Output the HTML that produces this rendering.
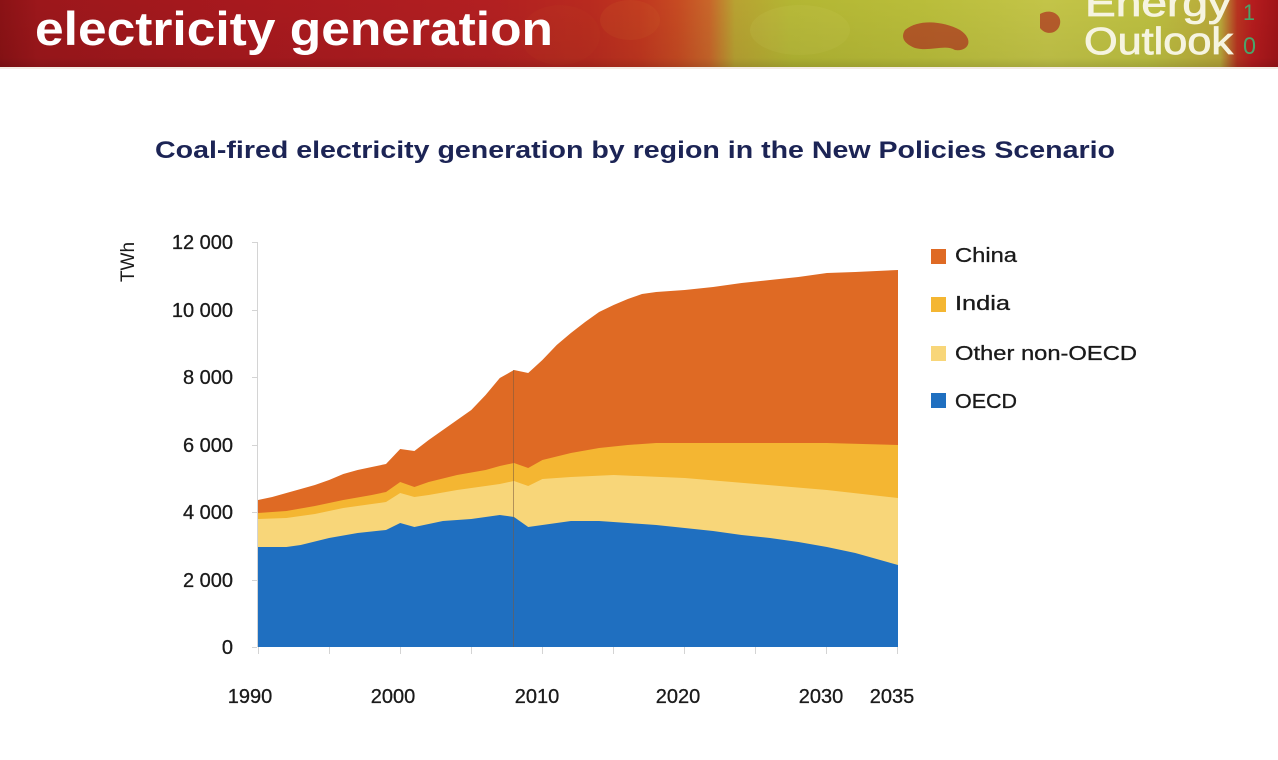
<!DOCTYPE html>
<html>
<head>
<meta charset="utf-8">
<style>
  html,body{margin:0;padding:0;background:#ffffff;}
  body{width:1278px;height:760px;overflow:hidden;}
  svg{display:block;}
  text{font-family:"Liberation Sans", "DejaVu Sans", sans-serif;}
</style>
</head>
<body>
<svg width="1278" height="760" viewBox="0 0 1278 760" xmlns="http://www.w3.org/2000/svg">
  <defs>
    <linearGradient id="banner" x1="0" y1="0" x2="1" y2="0">
      <stop offset="0" stop-color="#8a1215"/>
      <stop offset="0.03" stop-color="#9c171b"/>
      <stop offset="0.2" stop-color="#a8191e"/>
      <stop offset="0.38" stop-color="#b21f21"/>
      <stop offset="0.46" stop-color="#b82a1f"/>
      <stop offset="0.5" stop-color="#c0361f"/>
      <stop offset="0.53" stop-color="#c64a22"/>
      <stop offset="0.555" stop-color="#c8662a"/>
      <stop offset="0.575" stop-color="#b8a232"/>
      <stop offset="0.62" stop-color="#b3b633"/>
      <stop offset="0.72" stop-color="#b9bd3a"/>
      <stop offset="0.82" stop-color="#c3c448"/>
      <stop offset="0.9" stop-color="#bcbf40"/>
      <stop offset="0.955" stop-color="#b9a83a"/>
      <stop offset="0.968" stop-color="#b83420"/>
      <stop offset="0.98" stop-color="#b51c1e"/>
      <stop offset="1" stop-color="#a01418"/>
    </linearGradient>
    <linearGradient id="shade" x1="0" y1="0" x2="0" y2="1">
      <stop offset="0" stop-color="#000" stop-opacity="0"/>
      <stop offset="0.85" stop-color="#000" stop-opacity="0.05"/>
      <stop offset="1" stop-color="#000" stop-opacity="0.15"/>
    </linearGradient>
  </defs>

  <!-- Header banner -->
  <rect x="0" y="0" width="1278" height="68" fill="url(#banner)"/>
  <ellipse cx="560" cy="35" rx="40" ry="30" fill="#c4401f" opacity="0.15"/>
  <ellipse cx="630" cy="20" rx="30" ry="20" fill="#d06a2a" opacity="0.15"/>
  <path d="M905,30 C920,18 945,22 960,30 C975,40 968,52 955,50 C945,44 930,52 915,48 C905,44 900,38 905,30 Z" fill="#b03020" opacity="0.7"/>
  <path d="M1040,14 C1050,8 1062,14 1060,24 C1058,34 1046,36 1040,28 Z" fill="#b03020" opacity="0.7"/>
  <ellipse cx="800" cy="30" rx="50" ry="25" fill="#cdd060" opacity="0.15"/>
  <rect x="0" y="0" width="1278" height="68" fill="url(#shade)"/>
  <rect x="0" y="67" width="1278" height="2" fill="#f4ece4"/>

  <text x="35" y="45" font-size="47" font-weight="bold" fill="#ffffff" textLength="518" lengthAdjust="spacingAndGlyphs">electricity generation</text>
  <text x="1085" y="16" font-size="38" fill="#f6f4e0" textLength="146" lengthAdjust="spacingAndGlyphs" stroke="#f6f4e0" stroke-width="0.8">Energy</text>
  <text x="1084" y="54" font-size="38" fill="#f6f4e0" textLength="149" lengthAdjust="spacingAndGlyphs" stroke="#f6f4e0" stroke-width="0.8">Outlook</text>
  <text x="1243" y="20" font-size="22" fill="#4aa56a" textLength="12" lengthAdjust="spacingAndGlyphs">1</text>
  <text x="1243" y="54" font-size="24" fill="#4aa56a" textLength="13" lengthAdjust="spacingAndGlyphs">0</text>

  <!-- Chart title -->
  <text x="155" y="158" font-size="24" font-weight="bold" fill="#1c2455" textLength="960" lengthAdjust="spacingAndGlyphs">Coal-fired electricity generation by region in the New Policies Scenario</text>

  <!-- Y axis label -->
  <text transform="translate(134,262) rotate(-90)" font-size="19" fill="#1a1a1a" text-anchor="middle">TWh</text>

  <!-- Y tick labels -->
  <g font-size="20" fill="#1a1a1a" text-anchor="end" stroke="#1a1a1a" stroke-width="0.3">
    <text x="233" y="249">12 000</text>
    <text x="233" y="317">10 000</text>
    <text x="233" y="384">8 000</text>
    <text x="233" y="452">6 000</text>
    <text x="233" y="519">4 000</text>
    <text x="233" y="587">2 000</text>
    <text x="233" y="654">0</text>
  </g>

  <!-- Y axis line and ticks -->
  <g stroke="#d4d4d4" stroke-width="1">
    <line x1="257.5" y1="242" x2="257.5" y2="647"/>
    <line x1="252" y1="242.5" x2="257" y2="242.5"/>
    <line x1="252" y1="310.5" x2="257" y2="310.5"/>
    <line x1="252" y1="377.5" x2="257" y2="377.5"/>
    <line x1="252" y1="445.5" x2="257" y2="445.5"/>
    <line x1="252" y1="512.5" x2="257" y2="512.5"/>
    <line x1="252" y1="580.5" x2="257" y2="580.5"/>
    <line x1="252" y1="647.5" x2="257" y2="647.5"/>
  </g>

  <!-- Areas -->
  <polygon fill="#df6a24" points="258,500 272.2,497 286.4,493 300.7,489 314.9,485 329.1,480 343.3,474 357.6,470 371.8,467 386,464 400.2,449 414.4,451 428.7,440 442.9,430 457.1,420 471.3,410 485.6,395 499.8,378 514,370 528.2,373 542.4,360 556.7,345 570.9,333 585.1,322 599.1,312 613.6,305 627.8,299 642,294 656.2,292 670.4,291 684.7,290 713.1,287 741.6,283 770,280 798.4,277 826.9,273 855.3,272 898,270 898,647 258,647"/>
  <polygon fill="#f4b632" points="258,513 286.4,511 314.9,506 343.3,500 371.8,495 386,492 400.2,482 414.4,487 428.7,482 457.1,475 485.6,470 499.8,466 514,463 528.2,468 542.4,460 570.9,453 599.1,448 627.8,445 656.2,443 684.7,443 755.8,443 826.9,443 898,445 898,647 258,647"/>
  <polygon fill="#f8d679" points="258,519 286.4,518 314.9,514 343.3,508 371.8,504 386,502 400.2,493 414.4,497 428.7,495 457.1,490 485.6,486 499.8,484 514,481 528.2,486 542.4,479 570.9,477 613.6,475 684.7,478 755.8,484 826.9,490 898,498 898,647 258,647"/>
  <polygon fill="#1f6fc0" points="258,547 286.4,547 300.7,545 329.1,538 357.6,533 386,530 400.2,523 414.4,527 428.7,524 442.9,521 471.3,519 499.8,515 514,517 528.2,527 542.4,525 570.9,521 599.1,521 627.8,523 656.2,525 684.7,528 713.1,531 741.6,535 770,538 798.4,542 826.9,547 855.3,553 898,565 898,647 258,647"/>

  <!-- 2008 divider -->
  <line x1="513.5" y1="370" x2="513.5" y2="647" stroke="#7a5a40" stroke-width="1" opacity="0.55"/>

  <!-- X axis ticks -->
  <g stroke="#d4d4d4" stroke-width="1">
    <line x1="258.5" y1="647" x2="258.5" y2="654"/>
    <line x1="329.5" y1="647" x2="329.5" y2="654"/>
    <line x1="400.5" y1="647" x2="400.5" y2="654"/>
    <line x1="471.5" y1="647" x2="471.5" y2="654"/>
    <line x1="542.5" y1="647" x2="542.5" y2="654"/>
    <line x1="613.5" y1="647" x2="613.5" y2="654"/>
    <line x1="684.5" y1="647" x2="684.5" y2="654"/>
    <line x1="755.5" y1="647" x2="755.5" y2="654"/>
    <line x1="826.5" y1="647" x2="826.5" y2="654"/>
    <line x1="897.5" y1="647" x2="897.5" y2="654"/>
  </g>

  <!-- X tick labels -->
  <g font-size="20" fill="#1a1a1a" text-anchor="middle" stroke="#1a1a1a" stroke-width="0.3">
    <text x="250" y="703">1990</text>
    <text x="393" y="703">2000</text>
    <text x="537" y="703">2010</text>
    <text x="678" y="703">2020</text>
    <text x="821" y="703">2030</text>
    <text x="892" y="703">2035</text>
  </g>

  <!-- Legend -->
  <rect x="931" y="249" width="15" height="15" fill="#df6a24"/>
  <rect x="931" y="297" width="15" height="15" fill="#f4b632"/>
  <rect x="931" y="346" width="15" height="15" fill="#f8d679"/>
  <rect x="931" y="393" width="15" height="15" fill="#1f6fc0"/>
  <g font-size="20" fill="#1a1a1a" stroke="#1a1a1a" stroke-width="0.3">
    <text x="955" y="262" textLength="62" lengthAdjust="spacingAndGlyphs">China</text>
    <text x="955" y="310" textLength="55" lengthAdjust="spacingAndGlyphs">India</text>
    <text x="955" y="360" textLength="182" lengthAdjust="spacingAndGlyphs">Other non-OECD</text>
    <text x="955" y="408" textLength="62" lengthAdjust="spacingAndGlyphs">OECD</text>
  </g>
</svg>
</body>
</html>
